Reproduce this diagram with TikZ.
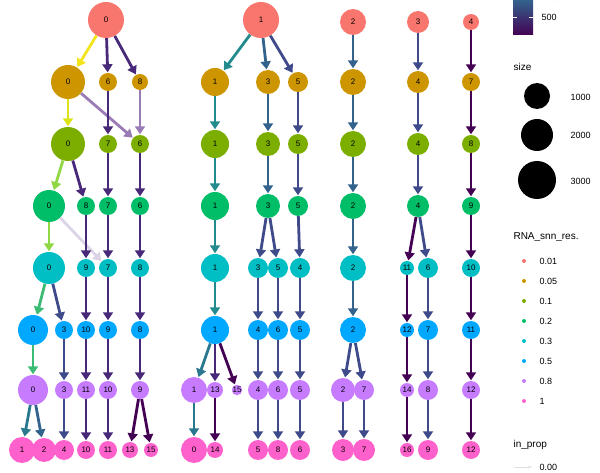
\documentclass[tikz,border=0pt]{standalone}
\usepackage{fontspec}
\setmainfont{Liberation Sans}
\usetikzlibrary{arrows.meta}
\definecolor{cA}{HTML}{F8766D}\definecolor{cB}{HTML}{CD9600}\definecolor{cC}{HTML}{7CAE00}\definecolor{cD}{HTML}{00BE67}
\definecolor{cE}{HTML}{00BFC4}\definecolor{cF}{HTML}{00A9FF}\definecolor{cG}{HTML}{C77CFF}\definecolor{cH}{HTML}{FF61CC}
\definecolor{vY}{HTML}{F2E41D}\definecolor{vY2}{HTML}{DCE319}\definecolor{vLG}{HTML}{8FD744}\definecolor{vG}{HTML}{3CBB75}
\definecolor{vT}{HTML}{238A8D}\definecolor{vT2}{HTML}{2A788E}\definecolor{vB}{HTML}{33638D}\definecolor{vI}{HTML}{3E4A89}
\definecolor{vP}{HTML}{482878}\definecolor{vD}{HTML}{440154}\definecolor{vLP}{HTML}{9A7BB5}\definecolor{vVL}{HTML}{DCD3E6}
\newcommand\cnode[6]{\node[nd,fill=#6,minimum size=#4*2pt] (#1) at (#2,#3) {#5};}
\begin{document}
\begin{tikzpicture}[x=1pt,y=-1pt,
 nd/.style={circle,inner sep=0pt,font=\fontsize{8}{9}\selectfont},
 e/.style={line width=2.8pt,-{Triangle[length=8pt,width=10pt]},shorten >=0.5pt},
 lg/.style={anchor=west,font=\fontsize{9}{10}\selectfont}]
\useasboundingbox (0,0) rectangle (600,473);
% row0
\cnode{a0}{106}{20}{18}{0}{cA}\cnode{a1}{261}{20}{18}{1}{cA}\cnode{a2}{353}{22}{13}{2}{cA}\cnode{a3}{418}{22}{11}{3}{cA}\cnode{a4}{471}{22}{8}{4}{cA}
% row1
\cnode{b0}{68}{82}{17}{0}{cB}\cnode{b6}{108}{82}{9}{6}{cB}\cnode{b8}{140}{82}{8}{8}{cB}\cnode{b1}{215}{82}{14}{1}{cB}\cnode{b3}{268}{82}{12}{3}{cB}\cnode{b5}{298}{82}{10}{5}{cB}\cnode{b2}{353}{82}{13}{2}{cB}\cnode{b4}{418}{82}{11}{4}{cB}\cnode{b7}{471}{82}{9}{7}{cB}
% row2
\cnode{c0}{68}{144}{17}{0}{cC}\cnode{c7}{108}{144}{9}{7}{cC}\cnode{c6}{140}{144}{9}{6}{cC}\cnode{c1}{215}{144}{14}{1}{cC}\cnode{c3}{268}{144}{12}{3}{cC}\cnode{c5}{298}{144}{10}{5}{cC}\cnode{c2}{353}{144}{13}{2}{cC}\cnode{c4}{418}{144}{11}{4}{cC}\cnode{c8}{471}{144}{9}{8}{cC}
% row3
\cnode{d0}{49}{206}{16}{0}{cD}\cnode{d8}{86}{206}{9}{8}{cD}\cnode{d7}{108}{206}{9}{7}{cD}\cnode{d6}{140}{206}{9}{6}{cD}\cnode{d1}{215}{206}{14}{1}{cD}\cnode{d3}{268}{206}{12}{3}{cD}\cnode{d5}{298}{206}{10}{5}{cD}\cnode{d2}{353}{206}{13}{2}{cD}\cnode{d4}{418}{206}{11}{4}{cD}\cnode{d9}{471}{206}{9}{9}{cD}
% row4
\cnode{e0}{49}{268}{16}{0}{cE}\cnode{e9}{86}{268}{9}{9}{cE}\cnode{e7}{108}{268}{9}{7}{cE}\cnode{e8}{140}{268}{9}{8}{cE}\cnode{e1}{215}{268}{14}{1}{cE}\cnode{e3}{258}{268}{10}{3}{cE}\cnode{e5}{278}{268}{10}{5}{cE}\cnode{e4}{300}{268}{10}{4}{cE}\cnode{e2}{353}{268}{13}{2}{cE}\cnode{e11}{407}{268}{7}{11}{cE}\cnode{e6}{428}{268}{10}{6}{cE}\cnode{e10}{471}{268}{9}{10}{cE}
% row5
\cnode{f0}{33}{330}{15}{0}{cF}\cnode{f3}{64}{330}{9}{3}{cF}\cnode{f10}{86}{330}{9}{10}{cF}\cnode{f9}{108}{330}{9}{9}{cF}\cnode{f8}{140}{330}{9}{8}{cF}\cnode{f1}{215}{330}{14}{1}{cF}\cnode{f4}{258}{330}{10}{4}{cF}\cnode{f6}{278}{330}{10}{6}{cF}\cnode{f5}{300}{330}{10}{5}{cF}\cnode{f2}{353}{330}{13}{2}{cF}\cnode{f12}{407}{330}{7}{12}{cF}\cnode{f7}{428}{330}{10}{7}{cF}\cnode{f11}{471}{330}{9}{11}{cF}
% row6
\cnode{g0}{33}{390}{15}{0}{cG}\cnode{g3}{64}{390}{9}{3}{cG}\cnode{g11}{86}{390}{9}{11}{cG}\cnode{g10}{108}{390}{9}{10}{cG}\cnode{g9}{140}{390}{9}{9}{cG}\cnode{g1}{194}{390}{13}{1}{cG}\cnode{g13}{215}{390}{8}{13}{cG}\cnode{g15}{237}{390}{5}{15}{cG}\cnode{g4}{258}{390}{10}{4}{cG}\cnode{g6}{278}{390}{10}{6}{cG}\cnode{g5}{300}{390}{10}{5}{cG}\cnode{g2}{343}{390}{12}{2}{cG}\cnode{g7}{364}{390}{10}{7}{cG}\cnode{g14}{407}{390}{7}{14}{cG}\cnode{g8}{428}{390}{10}{8}{cG}\cnode{g12}{471}{390}{9}{12}{cG}
% row7
\cnode{h1}{22}{450}{13}{1}{cH}\cnode{h2}{44}{450}{12}{2}{cH}\cnode{h4}{64}{450}{10}{4}{cH}\cnode{h10}{86}{450}{9}{10}{cH}\cnode{h11}{108}{450}{9}{11}{cH}\cnode{h13}{130}{450}{8}{13}{cH}\cnode{h15}{151}{450}{7}{15}{cH}\cnode{h0}{194}{450}{13}{0}{cH}\cnode{h14}{215}{450}{8}{14}{cH}\cnode{h5}{258}{450}{10}{5}{cH}\cnode{h8}{278}{450}{10}{8}{cH}\cnode{h6}{300}{450}{10}{6}{cH}\cnode{h3}{343}{450}{11}{3}{cH}\cnode{h7}{364}{450}{11}{7}{cH}\cnode{h16}{407}{450}{7}{16}{cH}\cnode{h9}{428}{450}{10}{9}{cH}\cnode{h12}{471}{450}{9}{12}{cH}
% edges
\draw[e,vY] (a0)--(b0); \draw[e,vP] (a0)--(b6); \draw[e,vP] (a0)--(b8);
\draw[e,vT] (a1)--(b1); \draw[e,vB] (a1)--(b3); \draw[e,vI] (a1)--(b5);
\draw[e,vB] (a2)--(b2); \draw[e,vI] (a3)--(b4); \draw[e,vD] (a4)--(b7);
\draw[e,vY2] (b0)--(c0); \draw[e,vLP] (b0)--(c6); \draw[e,vP] (b6)--(c7); \draw[e,vLP] (b8)--(c6);
\draw[e,vT] (b1)--(c1); \draw[e,vB] (b3)--(c3); \draw[e,vI] (b5)--(c5); \draw[e,vB] (b2)--(c2); \draw[e,vI] (b4)--(c4); \draw[e,vD] (b7)--(c8);
\draw[e,vLG] (c0)--(d0); \draw[e,vP] (c0)--(d8); \draw[e,vP] (c7)--(d7); \draw[e,vP] (c6)--(d6);
\draw[e,vT] (c1)--(d1); \draw[e,vB] (c3)--(d3); \draw[e,vI] (c5)--(d5); \draw[e,vB] (c2)--(d2); \draw[e,vI] (c4)--(d4); \draw[e,vD] (c8)--(d9);
\draw[e,vLG] (d0)--(e0); \draw[e,vVL] (d0)--(e7); \draw[e,vP] (d8)--(e9); \draw[e,vP] (d7)--(e7); \draw[e,vP] (d6)--(e8);
\draw[e,vT] (d1)--(e1); \draw[e,vI] (d3)--(e3); \draw[e,vI] (d3)--(e5); \draw[e,vI] (d5)--(e4); \draw[e,vB] (d2)--(e2); \draw[e,vD] (d4)--(e11); \draw[e,vI] (d4)--(e6); \draw[e,vD] (d9)--(e10);
\draw[e,vG] (e0)--(f0); \draw[e,vI] (e0)--(f3); \draw[e,vP] (e9)--(f10); \draw[e,vP] (e7)--(f9); \draw[e,vP] (e8)--(f8);
\draw[e,vT] (e1)--(f1); \draw[e,vI] (e3)--(f4); \draw[e,vI] (e5)--(f6); \draw[e,vI] (e4)--(f5); \draw[e,vB] (e2)--(f2); \draw[e,vD] (e11)--(f12); \draw[e,vI] (e6)--(f7); \draw[e,vD] (e10)--(f11);
\draw[e,vG] (f0)--(g0); \draw[e,vI] (f3)--(g3); \draw[e,vP] (f10)--(g11); \draw[e,vP] (f9)--(g10); \draw[e,vP] (f8)--(g9);
\draw[e,vT2] (f1)--(g1); \draw[e,vP] (f1)--(g13); \draw[e,vD] (f1)--(g15);
\draw[e,vI] (f4)--(g4); \draw[e,vI] (f6)--(g6); \draw[e,vI] (f5)--(g5); \draw[e,vI] (f2)--(g2); \draw[e,vI] (f2)--(g7); \draw[e,vD] (f12)--(g14); \draw[e,vI] (f7)--(g8); \draw[e,vD] (f11)--(g12);
\draw[e,vT2] (g0)--(h1); \draw[e,vB] (g0)--(h2); \draw[e,vI] (g3)--(h4); \draw[e,vP] (g11)--(h10); \draw[e,vP] (g10)--(h11); \draw[e,vD] (g9)--(h13); \draw[e,vD] (g9)--(h15);
\draw[e,vT2] (g1)--(h0); \draw[e,vD] (g13)--(h14); \draw[e,vI] (g4)--(h5); \draw[e,vI] (g6)--(h8); \draw[e,vI] (g5)--(h6);
\draw[e,vI] (g2)--(h3); \draw[e,vI] (g7)--(h7); \draw[e,vD] (g14)--(h16); \draw[e,vI] (g8)--(h9); \draw[e,vD] (g12)--(h12);
% legend
\shade[bottom color=vD,top color=vB] (513,35) rectangle (533,0);
\draw[white,line width=0.8pt] (513,17)--(517,17) (529,17)--(533,17);
\node[lg] (l500) at (538,17) {500};
\node[lg] (l1000) at (538,-3) {1000};
\node[lg,font=\fontsize{10}{11}\selectfont] (lsize) at (510,67) {size};
\node[circle,fill=black,minimum size=26pt,inner sep=0pt] (s1) at (537,96) {};
\node[circle,fill=black,minimum size=32pt,inner sep=0pt] (s2) at (537,135) {};
\node[circle,fill=black,minimum size=38pt,inner sep=0pt] (s3) at (537,180) {};
\node[lg] (t1) at (567,97) {1000};\node[lg] (t2) at (567,135) {2000};\node[lg] (t3) at (567,181) {3000};
\node[lg,font=\fontsize{10}{11}\selectfont] (lres) at (510,237) {RNA\_snn\_res.};
\foreach \c/\t [count=\i] in {cA/0.01,cB/0.05,cC/0.1,cD/0.2,cE/0.3,cF/0.5,cG/0.8,cH/1}{
 \node[circle,fill=\c,minimum size=4pt,inner sep=0pt] (k\i) at (524,241+20*\i) {};
 \node[lg] (kt\i) at (536,241+20*\i) {\t};}
\node[lg,font=\fontsize{10}{11}\selectfont] (lin) at (510,445) {in\_prop};
\coordinate (ia) at (514,467); \coordinate (ib) at (532,467);
\draw[gray!25,line width=0.6pt,-{Stealth[length=4pt]}] (ia)--(ib);
\node[lg] (i0) at (536,467) {0.00};
\end{tikzpicture}
\end{document}
